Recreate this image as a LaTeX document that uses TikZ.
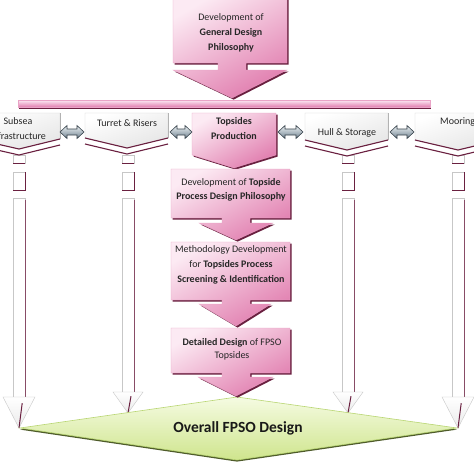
\documentclass[tikz,border=0pt]{standalone}
\usepackage{fontspec}
\setmainfont{Carlito}
\definecolor{pinkL}{HTML}{FCEAF3}
\definecolor{pinkM}{HTML}{F3BCD7}
\definecolor{pinkD}{HTML}{E17EAF}
\definecolor{pinkE}{HTML}{E9A3C6}
\definecolor{maroon}{HTML}{6A2040}
\definecolor{greyE}{HTML}{C8C8C8}
\definecolor{greenL}{HTML}{F5FBE2}
\definecolor{greenD}{HTML}{CFE58D}
\definecolor{greenE}{HTML}{B9D673}
\definecolor{olive}{HTML}{4E5B2A}
\definecolor{steelL}{HTML}{EEF3F6}
\definecolor{steelD}{HTML}{70828F}
\definecolor{steelE}{HTML}{38434C}
\begin{document}
\begin{tikzpicture}[x=1pt,y=-1pt,
  pinkshade/.style={top color=pinkL, middle color=pinkM, bottom color=pinkD, shading angle=30, draw=pinkE, line width=0.3pt},
  pinkshadow/.style={fill=maroon, shift={(1.6,1.6)}},
  greyshade/.style={top color=white, bottom color=black!10, shading angle=20, draw=black!18, line width=0.4pt},
  darkline/.style={draw=maroon, line width=1.1pt},
  piece/.style={fill=white, draw=black!22, line width=0.4pt},
  dblarrow/.style={top color=steelL, bottom color=steelD, draw=steelE, line width=0.6pt},
  txt/.style={align=center, text=black!85, font=\fontsize{10}{15}\selectfont, inner sep=0pt},
  bigtxt/.style={align=center, text=black!90, font=\fontsize{15.5}{18}\selectfont\bfseries, inner sep=0pt}
]
\useasboundingbox (0,0) rectangle (474,474);
\clip (0,0) rectangle (474,474);
\fill[white] (0,0) rectangle (474,474);

% ---------- vertical white arrows ----------
\newcommand\vdown[4]{% #1 centre x, #2 head top y, #3 tip y, #4 half head width
  \filldraw[piece] ({#1-6},155) rectangle ({#1+6},163);
  \draw[darkline, line width=0.9pt] ({#1-6},163) -- ({#1+6},163);
  \filldraw[piece] ({#1-6},172) rectangle ({#1+6},190);
  \draw[darkline, line width=0.9pt] ({#1+6},172) -- ({#1+6},190) -- ({#1-6},190);
  \filldraw[piece] ({#1-6},198) rectangle ({#1+6},{#2+2});
  \draw[maroon!80, line width=0.8pt] ({#1+6},200) -- ({#1+6},{#2+1});
  \shade[top color=white, bottom color=black!8, draw=black!22, line width=0.4pt]
     ({#1-#4},#2) -- ({#1+#4},#2) -- (#1,#3) -- cycle;
  \draw[maroon, line width=1pt] ({#1+#4*0.2},{#3-(#3-#2)*0.8}) -- (#1,#3);
}
\vdown{19}{397}{428}{16}
\vdown{128}{392}{413}{15}
\vdown{348}{392}{413}{15}
\vdown{458}{397}{428}{16}

% ---------- diamond ----------
\fill[olive, shift={(0,1.6)}] (20,428) -- (237,397) -- (457,428) -- (237,460) -- cycle;
\shade[top color=greenL, bottom color=greenD, draw=greenE, line width=0.6pt]
  (20,428) -- (237,397) -- (457,428) -- (237,460) -- cycle;
\node[bigtxt] (overall) at (238,428) {Overall FPSO Design};

% ---------- top callout ----------
\fill[pinkshadow] (173,-5) -- (287,-5) -- (287,63) -- (246,63) -- (246,70) -- (287,70) -- (232,98) -- (173,70) -- (218,70) -- (218,63) -- (173,63) -- cycle;
\shade[pinkshade] (173,-5) -- (287,-5) -- (287,63) -- (246,63) -- (246,70) -- (287,70) -- (232,98) -- (173,70) -- (218,70) -- (218,63) -- (173,63) -- cycle;
\node[txt] (gen) at (231,32.5) {Development of\\\textbf{General Design}\\\textbf{Philosophy}};

% ---------- horizontal bar ----------
\fill[maroon] (19,101.5) rectangle (431,108.5);
\shade[top color=pinkL, bottom color=pinkD, draw=pinkE, line width=0.3pt] (18,100) rectangle (430,107);

% ---------- side boxes ----------
\newcommand\sidebox[5]{% #1 left, #2 right, #3 side y, #4 tip x, #5 tip y
  \shade[greyshade] (#1,113) -- (#2,113) -- (#2,#3) -- (#4,#5) -- (#1,#3) -- cycle;
  \draw[black!30, line width=0.6pt] (#2,113) -- (#2,#3);
  \draw[darkline] (#1,#3) -- (#4,#5) -- (#2,#3);
  \draw[darkline] (#1,{#3+6}) -- (#4,{#5+6}) -- (#2,{#3+6});
}
\sidebox{-25}{60}{139}{19}{149}
\sidebox{85}{168}{138}{127}{148}
\sidebox{305}{388}{140}{347}{150}
\sidebox{415}{500}{140}{458}{150}

\node[txt] (subsea) at (18,128.5) {Subsea\\Infrastructure};
\node[txt] (turret) at (127,123) {Turret \& Risers};
\node[txt] (hull) at (347,133) {Hull \& Storage};
\node[txt, anchor=west] (mooring) at (440,122) {Mooring};

% ---------- topsides production ----------
\fill[pinkshadow] (192,113) -- (276,113) -- (276,155) -- (234,168) -- (192,155) -- cycle;
\shade[pinkshade] (192,113) -- (276,113) -- (276,155) -- (234,168) -- (192,155) -- cycle;
\node[txt] (topsides) at (234,128.5) {\textbf{Topsides}\\\textbf{Production}};

% ---------- double arrows ----------
\newcommand\dblarr[3]{% #1 left x, #2 right x, #3 centre y
  \shade[dblarrow] (#1,#3) -- ({#1+7},{#3-6.5}) -- ({#1+7},{#3-3}) -- ({#2-7},{#3-3}) -- ({#2-7},{#3-6.5}) -- (#2,#3)
    -- ({#2-7},{#3+6.5}) -- ({#2-7},{#3+3}) -- ({#1+7},{#3+3}) -- ({#1+7},{#3+6.5}) -- cycle;
}
\dblarr{60}{84}{132}
\dblarr{170}{192}{132}
\dblarr{278}{303}{132}
\dblarr{390}{414}{132}

% ---------- central chain ----------
% C1
\fill[pinkshadow] (171,169) -- (290,169) -- (290,218) -- (250,218) -- (250,223) -- (273,223) -- (236,240) -- (199,223) -- (222,223) -- (222,218) -- (171,218) -- cycle;
\shade[pinkshade] (171,169) -- (290,169) -- (290,218) -- (250,218) -- (250,223) -- (273,223) -- (236,240) -- (199,223) -- (222,223) -- (222,218) -- (171,218) -- cycle;
\node[txt, font=\fontsize{10}{14}\selectfont] (c1) at (231,190) {Development of \textbf{Topside}\\\textbf{Process Design Philosophy}};
% C2
\fill[pinkshadow] (171,242) -- (290,242) -- (290,300) -- (250,300) -- (250,304) -- (271,304) -- (236,326) -- (199,304) -- (222,304) -- (222,300) -- (171,300) -- cycle;
\shade[pinkshade] (171,242) -- (290,242) -- (290,300) -- (250,300) -- (250,304) -- (271,304) -- (236,326) -- (199,304) -- (222,304) -- (222,300) -- (171,300) -- cycle;
\node[txt] (c2) at (231,265) {Methodology Development\\for \textbf{Topsides Process}\\\textbf{Screening \& Identification}};
% C3
\fill[pinkshadow] (171,328) -- (290,328) -- (290,373) -- (250,373) -- (250,377) -- (273,377) -- (236,396) -- (198,377) -- (222,377) -- (222,373) -- (171,373) -- cycle;
\shade[pinkshade] (171,328) -- (290,328) -- (290,373) -- (250,373) -- (250,377) -- (273,377) -- (236,396) -- (198,377) -- (222,377) -- (222,373) -- (171,373) -- cycle;
\node[txt, font=\fontsize{10}{13.5}\selectfont] (c3) at (232,349.5) {\textbf{Detailed Design} of FPSO\\Topsides};

\end{tikzpicture}
\end{document}
